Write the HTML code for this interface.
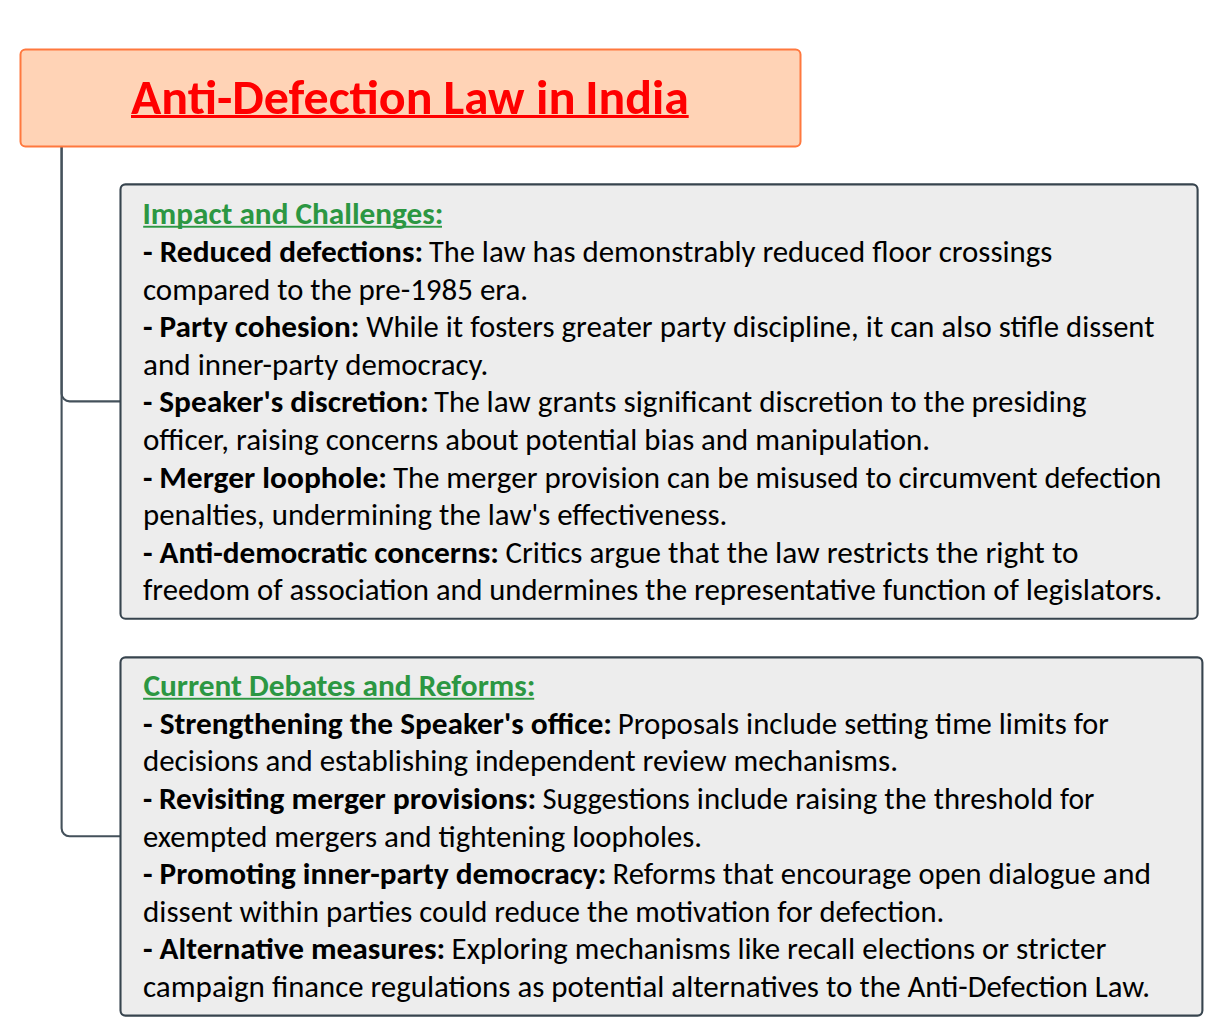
<!DOCTYPE html>
<html lang="en">
<head>
<meta charset="utf-8">
<title>Anti-Defection Law in India</title>
<style>
html,body{margin:0;padding:0;background:#fff;}
body{width:1225px;height:1028px;overflow:hidden;}
svg{display:block;}
text{font-family:Carlito,"Liberation Sans",sans-serif;font-size:30.8px;fill:#000;white-space:pre;font-size-adjust:0.4775390625;}
.b{font-weight:bold;font-size-adjust:0.48486328125;}
.h{font-weight:bold;fill:#2c9742;font-size-adjust:0.48486328125;}
.t{font-weight:bold;font-size:49.3px;fill:#ff0000;font-size-adjust:0.48486328125;}
</style>
</head>
<body>
<svg width="1225" height="1028" viewBox="0 0 1225 1028">
<rect x="0" y="0" width="1225" height="1028" fill="#ffffff"/>
<!-- connectors -->
<path d="M61.6 147 V393.4 A8 8 0 0 0 69.6 401.4 H120.5" fill="none" stroke="#44515b" stroke-width="2.1"/>
<path d="M61.6 147 V828.3 A8 8 0 0 0 69.6 836.3 H120.5" fill="none" stroke="#44515b" stroke-width="2.1"/>
<!-- central topic -->
<rect x="20.5" y="49.5" width="780" height="97" rx="5" fill="#ffd3b6" stroke="#ff783e" stroke-width="2"/>
<!-- sub topics -->
<rect x="120.5" y="184.4" width="1077.1" height="434.4" rx="5" fill="#ededed" stroke="#37444e" stroke-width="2.1"/>
<rect x="120.5" y="657.4" width="1081.9" height="358.2" rx="5" fill="#ededed" stroke="#37444e" stroke-width="2.1"/>
<text class="t" x="131.05" y="114.0" textLength="312.79" lengthAdjust="spacingAndGlyphs" xml:space="preserve">Anti-Defection </text>
<text class="t" x="443.62" y="114.0" textLength="92.04" lengthAdjust="spacingAndGlyphs" xml:space="preserve">Law </text>
<text class="t" x="536.09" y="114.0" textLength="50.97" lengthAdjust="spacingAndGlyphs" xml:space="preserve">in </text>
<text class="t" x="585.37" y="114.0" textLength="103.46" lengthAdjust="spacingAndGlyphs" xml:space="preserve">India</text>
<text class="h" x="142.47" y="224.40" textLength="300.94" lengthAdjust="spacingAndGlyphs">Impact and Challenges:</text>
<text class="b" x="142.98" y="262.00" textLength="287.18" lengthAdjust="spacingAndGlyphs" xml:space="preserve">- Reduced defections: </text>
<text class="r" x="429.04" y="262.00" textLength="52.82" lengthAdjust="spacingAndGlyphs" xml:space="preserve">The </text>
<text class="r" x="481.84" y="262.00" textLength="50.67" lengthAdjust="spacingAndGlyphs" xml:space="preserve">law </text>
<text class="r" x="532.51" y="262.00" textLength="519.83" lengthAdjust="spacingAndGlyphs" xml:space="preserve">has demonstrably reduced floor crossings</text>
<text class="r" x="142.99" y="299.60" textLength="134.28" lengthAdjust="spacingAndGlyphs" xml:space="preserve">compared </text>
<text class="r" x="277.28" y="299.60" textLength="81.34" lengthAdjust="spacingAndGlyphs" xml:space="preserve">to the </text>
<text class="r" x="358.60" y="299.60" textLength="169.56" lengthAdjust="spacingAndGlyphs" xml:space="preserve">pre-1985 era.</text>
<text class="b" x="142.99" y="337.20" textLength="223.34" lengthAdjust="spacingAndGlyphs" xml:space="preserve">- Party cohesion: </text>
<text class="r" x="366.22" y="337.20" textLength="79.48" lengthAdjust="spacingAndGlyphs" xml:space="preserve">While </text>
<text class="r" x="445.68" y="337.20" textLength="24.45" lengthAdjust="spacingAndGlyphs" xml:space="preserve">it </text>
<text class="r" x="470.13" y="337.20" textLength="91.29" lengthAdjust="spacingAndGlyphs" xml:space="preserve">fosters </text>
<text class="r" x="561.41" y="337.20" textLength="328.88" lengthAdjust="spacingAndGlyphs" xml:space="preserve">greater party discipline, it </text>
<text class="r" x="890.29" y="337.20" textLength="51.23" lengthAdjust="spacingAndGlyphs" xml:space="preserve">can </text>
<text class="r" x="941.53" y="337.20" textLength="57.22" lengthAdjust="spacingAndGlyphs" xml:space="preserve">also </text>
<text class="r" x="998.76" y="337.20" textLength="67.36" lengthAdjust="spacingAndGlyphs" xml:space="preserve">stifle </text>
<text class="r" x="1066.12" y="337.20" textLength="88.31" lengthAdjust="spacingAndGlyphs" xml:space="preserve">dissent</text>
<text class="r" x="142.99" y="374.80" textLength="54.72" lengthAdjust="spacingAndGlyphs" xml:space="preserve">and </text>
<text class="r" x="197.72" y="374.80" textLength="147.49" lengthAdjust="spacingAndGlyphs" xml:space="preserve">inner-party </text>
<text class="r" x="345.22" y="374.80" textLength="143.03" lengthAdjust="spacingAndGlyphs" xml:space="preserve">democracy.</text>
<text class="b" x="143.01" y="412.40" textLength="16.26" lengthAdjust="spacingAndGlyphs" xml:space="preserve">- </text>
<text class="b" x="159.25" y="412.40" textLength="131.08" lengthAdjust="spacingAndGlyphs" xml:space="preserve">Speaker's </text>
<text class="b" x="290.32" y="412.40" textLength="145.63" lengthAdjust="spacingAndGlyphs" xml:space="preserve">discretion: </text>
<text class="r" x="434.15" y="412.40" textLength="52.56" lengthAdjust="spacingAndGlyphs" xml:space="preserve">The </text>
<text class="r" x="486.64" y="412.40" textLength="51.16" lengthAdjust="spacingAndGlyphs" xml:space="preserve">law </text>
<text class="r" x="537.80" y="412.40" textLength="221.34" lengthAdjust="spacingAndGlyphs" xml:space="preserve">grants significant </text>
<text class="r" x="759.15" y="412.40" textLength="131.42" lengthAdjust="spacingAndGlyphs" xml:space="preserve">discretion </text>
<text class="r" x="890.57" y="412.40" textLength="32.98" lengthAdjust="spacingAndGlyphs" xml:space="preserve">to </text>
<text class="r" x="923.56" y="412.40" textLength="48.04" lengthAdjust="spacingAndGlyphs" xml:space="preserve">the </text>
<text class="r" x="971.56" y="412.40" textLength="114.98" lengthAdjust="spacingAndGlyphs" xml:space="preserve">presiding</text>
<text class="r" x="142.99" y="450.00" textLength="92.98" lengthAdjust="spacingAndGlyphs" xml:space="preserve">officer, </text>
<text class="r" x="235.97" y="450.00" textLength="89.68" lengthAdjust="spacingAndGlyphs" xml:space="preserve">raising </text>
<text class="r" x="325.66" y="450.00" textLength="119.56" lengthAdjust="spacingAndGlyphs" xml:space="preserve">concerns </text>
<text class="r" x="445.23" y="450.00" textLength="199.02" lengthAdjust="spacingAndGlyphs" xml:space="preserve">about potential </text>
<text class="r" x="644.25" y="450.00" textLength="56.86" lengthAdjust="spacingAndGlyphs" xml:space="preserve">bias </text>
<text class="r" x="701.11" y="450.00" textLength="54.08" lengthAdjust="spacingAndGlyphs" xml:space="preserve">and </text>
<text class="r" x="755.18" y="450.00" textLength="174.98" lengthAdjust="spacingAndGlyphs" xml:space="preserve">manipulation.</text>
<text class="b" x="143.00" y="487.60" textLength="16.35" lengthAdjust="spacingAndGlyphs" xml:space="preserve">- </text>
<text class="b" x="159.30" y="487.60" textLength="234.81" lengthAdjust="spacingAndGlyphs" xml:space="preserve">Merger loophole: </text>
<text class="r" x="393.24" y="487.60" textLength="53.01" lengthAdjust="spacingAndGlyphs" xml:space="preserve">The </text>
<text class="r" x="446.21" y="487.60" textLength="98.33" lengthAdjust="spacingAndGlyphs" xml:space="preserve">merger </text>
<text class="r" x="544.55" y="487.60" textLength="122.52" lengthAdjust="spacingAndGlyphs" xml:space="preserve">provision </text>
<text class="r" x="667.08" y="487.60" textLength="50.26" lengthAdjust="spacingAndGlyphs" xml:space="preserve">can </text>
<text class="r" x="717.33" y="487.60" textLength="181.25" lengthAdjust="spacingAndGlyphs" xml:space="preserve">be misused to </text>
<text class="r" x="898.58" y="487.60" textLength="145.95" lengthAdjust="spacingAndGlyphs" xml:space="preserve">circumvent </text>
<text class="r" x="1044.55" y="487.60" textLength="116.82" lengthAdjust="spacingAndGlyphs" xml:space="preserve">defection</text>
<text class="r" x="143.00" y="525.20" textLength="584.35" lengthAdjust="spacingAndGlyphs" xml:space="preserve">penalties, undermining the law's effectiveness.</text>
<text class="b" x="142.99" y="562.80" textLength="231.29" lengthAdjust="spacingAndGlyphs" xml:space="preserve">- Anti-democratic </text>
<text class="b" x="374.28" y="562.80" textLength="131.79" lengthAdjust="spacingAndGlyphs" xml:space="preserve">concerns: </text>
<text class="r" x="505.49" y="562.80" textLength="221.18" lengthAdjust="spacingAndGlyphs" xml:space="preserve">Critics argue that </text>
<text class="r" x="726.67" y="562.80" textLength="48.49" lengthAdjust="spacingAndGlyphs" xml:space="preserve">the </text>
<text class="r" x="775.11" y="562.80" textLength="51.60" lengthAdjust="spacingAndGlyphs" xml:space="preserve">law </text>
<text class="r" x="826.71" y="562.80" textLength="158.74" lengthAdjust="spacingAndGlyphs" xml:space="preserve">restricts the </text>
<text class="r" x="985.45" y="562.80" textLength="93.09" lengthAdjust="spacingAndGlyphs" xml:space="preserve">right to</text>
<text class="r" x="143.00" y="600.40" textLength="146.55" lengthAdjust="spacingAndGlyphs" xml:space="preserve">freedom of </text>
<text class="r" x="289.55" y="600.40" textLength="146.32" lengthAdjust="spacingAndGlyphs" xml:space="preserve">association </text>
<text class="r" x="435.88" y="600.40" textLength="53.37" lengthAdjust="spacingAndGlyphs" xml:space="preserve">and </text>
<text class="r" x="489.24" y="600.40" textLength="155.83" lengthAdjust="spacingAndGlyphs" xml:space="preserve">undermines </text>
<text class="r" x="645.07" y="600.40" textLength="49.00" lengthAdjust="spacingAndGlyphs" xml:space="preserve">the </text>
<text class="r" x="694.08" y="600.40" textLength="188.69" lengthAdjust="spacingAndGlyphs" xml:space="preserve">representative </text>
<text class="r" x="882.77" y="600.40" textLength="110.47" lengthAdjust="spacingAndGlyphs" xml:space="preserve">function </text>
<text class="r" x="993.24" y="600.40" textLength="32.51" lengthAdjust="spacingAndGlyphs" xml:space="preserve">of </text>
<text class="r" x="1025.70" y="600.40" textLength="136.39" lengthAdjust="spacingAndGlyphs" xml:space="preserve">legislators.</text>
<!-- second topic -->
<text class="h" x="143.44" y="696.20" textLength="392.02" lengthAdjust="spacingAndGlyphs">Current Debates and Reforms:</text>
<text class="b" x="142.99" y="733.80" textLength="387.87" lengthAdjust="spacingAndGlyphs" xml:space="preserve">- Strengthening the Speaker's </text>
<text class="b" x="530.84" y="733.80" textLength="88.38" lengthAdjust="spacingAndGlyphs" xml:space="preserve">office: </text>
<text class="r" x="617.78" y="733.80" textLength="128.31" lengthAdjust="spacingAndGlyphs" xml:space="preserve">Proposals </text>
<text class="r" x="746.09" y="733.80" textLength="98.11" lengthAdjust="spacingAndGlyphs" xml:space="preserve">include </text>
<text class="r" x="844.21" y="733.80" textLength="90.89" lengthAdjust="spacingAndGlyphs" xml:space="preserve">setting </text>
<text class="r" x="935.10" y="733.80" textLength="63.58" lengthAdjust="spacingAndGlyphs" xml:space="preserve">time </text>
<text class="r" x="998.67" y="733.80" textLength="74.98" lengthAdjust="spacingAndGlyphs" xml:space="preserve">limits </text>
<text class="r" x="1073.66" y="733.80" textLength="35.14" lengthAdjust="spacingAndGlyphs" xml:space="preserve">for</text>
<text class="r" x="143.00" y="771.40" textLength="499.61" lengthAdjust="spacingAndGlyphs" xml:space="preserve">decisions and establishing independent </text>
<text class="r" x="642.60" y="771.40" textLength="90.91" lengthAdjust="spacingAndGlyphs" xml:space="preserve">review </text>
<text class="r" x="733.51" y="771.40" textLength="164.55" lengthAdjust="spacingAndGlyphs" xml:space="preserve">mechanisms.</text>
<text class="b" x="143.02" y="809.00" textLength="15.99" lengthAdjust="spacingAndGlyphs" xml:space="preserve">- </text>
<text class="b" x="158.93" y="809.00" textLength="132.64" lengthAdjust="spacingAndGlyphs" xml:space="preserve">Revisiting </text>
<text class="b" x="291.56" y="809.00" textLength="101.31" lengthAdjust="spacingAndGlyphs" xml:space="preserve">merger </text>
<text class="b" x="392.86" y="809.00" textLength="150.49" lengthAdjust="spacingAndGlyphs" xml:space="preserve">provisions: </text>
<text class="r" x="542.48" y="809.00" textLength="154.33" lengthAdjust="spacingAndGlyphs" xml:space="preserve">Suggestions </text>
<text class="r" x="696.79" y="809.00" textLength="187.49" lengthAdjust="spacingAndGlyphs" xml:space="preserve">include raising </text>
<text class="r" x="884.27" y="809.00" textLength="49.35" lengthAdjust="spacingAndGlyphs" xml:space="preserve">the </text>
<text class="r" x="933.63" y="809.00" textLength="126.37" lengthAdjust="spacingAndGlyphs" xml:space="preserve">threshold </text>
<text class="r" x="1060.01" y="809.00" textLength="34.37" lengthAdjust="spacingAndGlyphs" xml:space="preserve">for</text>
<text class="r" x="143.01" y="846.60" textLength="131.20" lengthAdjust="spacingAndGlyphs" xml:space="preserve">exempted </text>
<text class="r" x="274.18" y="846.60" textLength="164.39" lengthAdjust="spacingAndGlyphs" xml:space="preserve">mergers and </text>
<text class="r" x="438.58" y="846.60" textLength="133.58" lengthAdjust="spacingAndGlyphs" xml:space="preserve">tightening </text>
<text class="r" x="572.17" y="846.60" textLength="129.77" lengthAdjust="spacingAndGlyphs" xml:space="preserve">loopholes.</text>
<text class="b" x="142.99" y="884.20" textLength="312.75" lengthAdjust="spacingAndGlyphs" xml:space="preserve">- Promoting inner-party </text>
<text class="b" x="455.74" y="884.20" textLength="157.73" lengthAdjust="spacingAndGlyphs" xml:space="preserve">democracy: </text>
<text class="r" x="612.50" y="884.20" textLength="305.88" lengthAdjust="spacingAndGlyphs" xml:space="preserve">Reforms that encourage </text>
<text class="r" x="918.38" y="884.20" textLength="70.09" lengthAdjust="spacingAndGlyphs" xml:space="preserve">open </text>
<text class="r" x="988.47" y="884.20" textLength="114.43" lengthAdjust="spacingAndGlyphs" xml:space="preserve">dialogue </text>
<text class="r" x="1102.87" y="884.20" textLength="48.14" lengthAdjust="spacingAndGlyphs" xml:space="preserve">and</text>
<text class="r" x="142.99" y="921.80" textLength="96.60" lengthAdjust="spacingAndGlyphs" xml:space="preserve">dissent </text>
<text class="r" x="239.59" y="921.80" textLength="86.40" lengthAdjust="spacingAndGlyphs" xml:space="preserve">within </text>
<text class="r" x="326.01" y="921.80" textLength="93.25" lengthAdjust="spacingAndGlyphs" xml:space="preserve">parties </text>
<text class="r" x="419.27" y="921.80" textLength="75.05" lengthAdjust="spacingAndGlyphs" xml:space="preserve">could </text>
<text class="r" x="494.33" y="921.80" textLength="92.59" lengthAdjust="spacingAndGlyphs" xml:space="preserve">reduce </text>
<text class="r" x="586.91" y="921.80" textLength="48.32" lengthAdjust="spacingAndGlyphs" xml:space="preserve">the </text>
<text class="r" x="635.21" y="921.80" textLength="142.12" lengthAdjust="spacingAndGlyphs" xml:space="preserve">motivation </text>
<text class="r" x="777.33" y="921.80" textLength="42.20" lengthAdjust="spacingAndGlyphs" xml:space="preserve">for </text>
<text class="r" x="819.52" y="921.80" textLength="124.71" lengthAdjust="spacingAndGlyphs" xml:space="preserve">defection.</text>
<text class="b" x="142.99" y="959.40" textLength="167.98" lengthAdjust="spacingAndGlyphs" xml:space="preserve">- Alternative </text>
<text class="b" x="310.95" y="959.40" textLength="141.33" lengthAdjust="spacingAndGlyphs" xml:space="preserve">measures: </text>
<text class="r" x="451.62" y="959.40" textLength="285.82" lengthAdjust="spacingAndGlyphs" xml:space="preserve">Exploring mechanisms </text>
<text class="r" x="737.43" y="959.40" textLength="49.58" lengthAdjust="spacingAndGlyphs" xml:space="preserve">like </text>
<text class="r" x="787.00" y="959.40" textLength="75.21" lengthAdjust="spacingAndGlyphs" xml:space="preserve">recall </text>
<text class="r" x="862.22" y="959.40" textLength="119.74" lengthAdjust="spacingAndGlyphs" xml:space="preserve">elections </text>
<text class="r" x="981.96" y="959.40" textLength="34.14" lengthAdjust="spacingAndGlyphs" xml:space="preserve">or </text>
<text class="r" x="1016.08" y="959.40" textLength="90.43" lengthAdjust="spacingAndGlyphs" xml:space="preserve">stricter</text>
<text class="r" x="142.99" y="997.00" textLength="128.99" lengthAdjust="spacingAndGlyphs" xml:space="preserve">campaign </text>
<text class="r" x="271.98" y="997.00" textLength="98.46" lengthAdjust="spacingAndGlyphs" xml:space="preserve">finance </text>
<text class="r" x="370.42" y="997.00" textLength="300.90" lengthAdjust="spacingAndGlyphs" xml:space="preserve">regulations as potential </text>
<text class="r" x="671.32" y="997.00" textLength="154.64" lengthAdjust="spacingAndGlyphs" xml:space="preserve">alternatives </text>
<text class="r" x="825.95" y="997.00" textLength="33.55" lengthAdjust="spacingAndGlyphs" xml:space="preserve">to </text>
<text class="r" x="859.52" y="997.00" textLength="47.99" lengthAdjust="spacingAndGlyphs" xml:space="preserve">the </text>
<text class="r" x="907.51" y="997.00" textLength="242.53" lengthAdjust="spacingAndGlyphs" xml:space="preserve">Anti-Defection Law.</text>
<rect x="131.00" y="115.00" width="557.70" height="3" fill="#ff0000"/>
<rect x="143.20" y="225.80" width="298.80" height="1.9" fill="#2c9742"/>
<rect x="143.10" y="697.80" width="391.10" height="1.9" fill="#2c9742"/>
</svg>
</body>
</html>
